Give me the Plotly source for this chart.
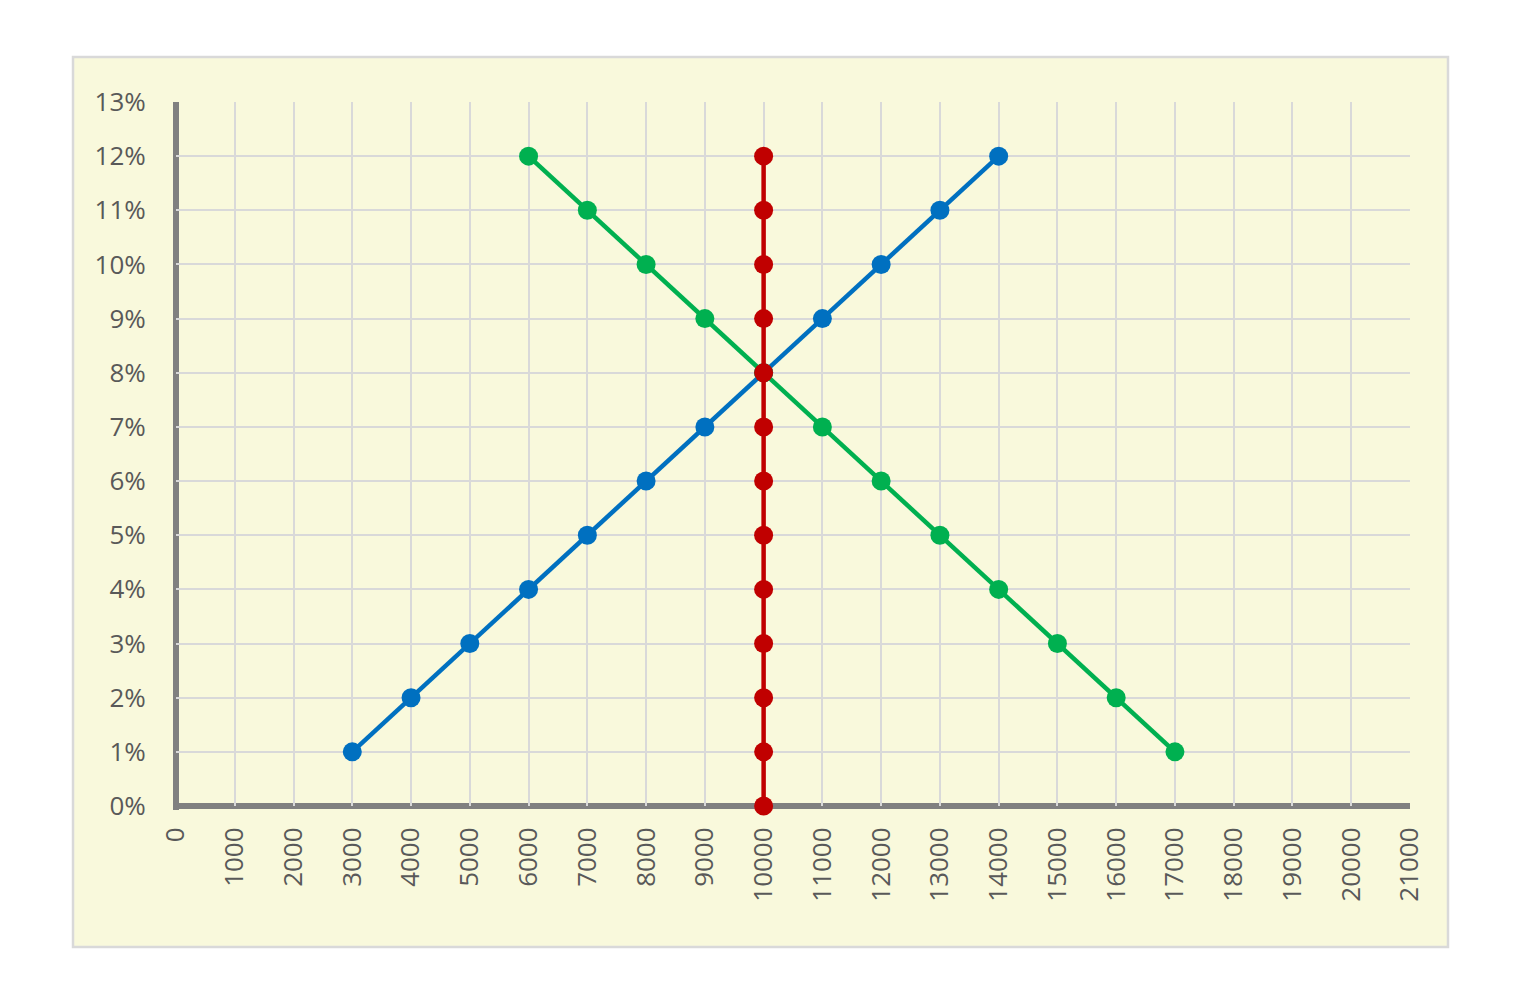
import plotly.graph_objects as go

# dados
x_azul = [3000, 4000, 5000, 6000, 7000, 8000, 9000, 10000, 11000, 12000, 13000, 14000]
y_azul = [0.01, 0.02, 0.03, 0.04, 0.05, 0.06, 0.07, 0.08, 0.09, 0.10, 0.11, 0.12]

x_verde = [6000, 7000, 8000, 9000, 10000, 11000, 12000, 13000, 14000, 15000, 16000, 17000]
y_verde = [0.12, 0.11, 0.10, 0.09, 0.08, 0.07, 0.06, 0.05, 0.04, 0.03, 0.02, 0.01]

x_vermelho = [10000] * 13
y_vermelho = [0.00, 0.01, 0.02, 0.03, 0.04, 0.05, 0.06, 0.07, 0.08, 0.09, 0.10, 0.11, 0.12]

x_min, x_max = 0, 21000
y_min, y_max = 0, 0.13

W, H = 1515, 997
off = 8  # margem do body da página
ml, mr, mt, mb = 176 - off, 105 + off, 102 - off, 191 + off
pw, ph = W - ml - mr, H - mt - mb

fig = go.Figure()
for xs, ys, cor in [(x_azul, y_azul, "#0070C0"),
                    (x_verde, y_verde, "#00B050"),
                    (x_vermelho, y_vermelho, "#C00000")]:
    fig.add_trace(go.Scatter(x=xs, y=ys, mode="lines+markers",
                             line=dict(color=cor, width=4.5),
                             marker=dict(color=cor, size=19),
                             showlegend=False, cliponaxis=False))

# moldura amarela do gráfico
def px_x(p):
    return (p - off - ml) / pw

def px_y(p):
    return (H - mb - (p - off)) / ph

fig.add_shape(type="rect", xref="paper", yref="paper", layer="below",
              x0=px_x(73), x1=px_x(1448), y0=px_y(947), y1=px_y(57),
              fillcolor="#F9F9DC", line=dict(color="#D9D9D9", width=2.5))

# eixos grossos centrados no zero (estilo Excel), em coordenadas de papel para não serem cortados
fig.add_shape(type="line", xref="paper", yref="paper", layer="between",
              x0=0, x1=0, y0=px_y(810), y1=1,
              line=dict(color="#808080", width=6))
fig.add_shape(type="line", xref="paper", yref="paper", layer="between",
              x0=0, x1=1, y0=0, y1=0,
              line=dict(color="#808080", width=6))

fonte = dict(family="Open Sans, sans-serif", size=26, color="#595959")

fig.update_xaxes(range=[x_min, x_max], dtick=1000, tick0=0, tickangle=-90,
                 tickformat="d",
                 showgrid=True, gridcolor="#D9D9D9", gridwidth=2,
                 showline=False, zeroline=False, ticks="outside", ticklen=10,
                 tickcolor="rgba(0,0,0,0)", tickfont=fonte)
fig.update_yaxes(range=[y_min, y_max], dtick=0.01, tick0=0, tickformat=".0%",
                 showgrid=True, gridcolor="#D9D9D9", gridwidth=2,
                 showline=False, zeroline=False, ticks="outside", ticklen=24,
                 tickcolor="rgba(0,0,0,0)", tickfont=fonte)

fig.update_layout(width=W, height=H,
                  margin=dict(l=ml, r=mr, t=mt, b=mb, autoexpand=False),
                  paper_bgcolor="white", plot_bgcolor="rgba(0,0,0,0)")

fig.write_html("out.html")
